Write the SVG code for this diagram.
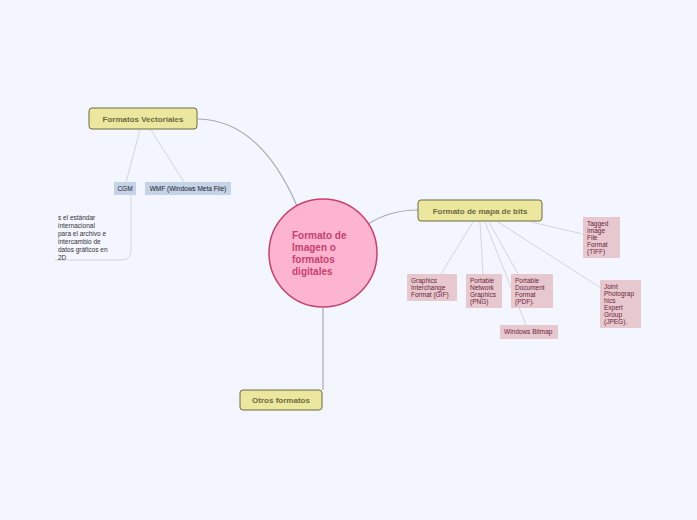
<svg xmlns="http://www.w3.org/2000/svg" width="697" height="520" viewBox="0 0 697 520">
<style>
.t{font-family:"Liberation Sans",Arial,sans-serif}
.main rect{fill:#ece79f;stroke:#6d6a3e;stroke-width:1}
.main text{font-size:8px;font-weight:bold;fill:#6d6a3e}
.blue rect{fill:#c4d3e8}
.blue text{font-size:6.5px;fill:#222}
.pink rect{fill:#e8c8cf}
.pink text{font-size:6.5px;fill:#6a2438}
.c{fill:none;stroke:#c9ccd6;stroke-width:0.8}
.cm{fill:none;stroke:#aaaaaa;stroke-width:1.2}
</style>
<rect width="697" height="520" fill="#f3f5ff"/>
<g id="connectors">
<path class="cm" d="M297 206 Q260 120 198 119"/>
<path class="cm" d="M368 224 Q390 210 418 210"/>
<path class="cm" d="M323 308 L323 390"/>
<path class="c" d="M140 130 L126 182"/>
<path class="c" d="M151 130 L184 182"/>
<path class="c" d="M131 195 L131 250 Q131 260 121 260 L55 260"/>
<path class="c" d="M473 222 L441 274"/>
<path class="c" d="M480 222 L483 274"/>
<path class="c" d="M485 222 L526 325"/>
<path class="c" d="M489 222 L518 274"/>
<path class="c" d="M498 222 L601 288"/>
<path class="c" d="M531 222 L583 234"/>
</g>
<g id="center"><circle cx="323" cy="253" r="54" fill="#fdb5cf" stroke="#c9406e" stroke-width="1.5"/>
<text class="t" font-size="10" font-weight="bold" fill="#c9406e"><tspan x="292" y="239">Formato de</tspan><tspan x="292" y="251">Imagen o</tspan><tspan x="292" y="263">formatos</tspan><tspan x="292" y="275">digitales</tspan></text></g>
<g id="vect" class="main"><rect x="89" y="108" width="108" height="21" rx="3"/><text class="t" x="143" y="122" text-anchor="middle">Formatos Vectoriales</text></g>
<g id="bits" class="main"><rect x="418" y="200" width="124" height="21" rx="3"/><text class="t" x="480" y="214" text-anchor="middle">Formato de mapa de bits</text></g>
<g id="otros" class="main"><rect x="240" y="390" width="82" height="20" rx="3"/><text class="t" x="281" y="403" text-anchor="middle">Otros formatos</text></g>
<g id="cgm" class="blue"><rect x="114" y="182" width="22" height="13"/><text class="t" x="125" y="191" text-anchor="middle">CGM</text></g>
<g id="wmf" class="blue"><rect x="145" y="182" width="86" height="13"/><text class="t" x="188" y="191" text-anchor="middle">WMF (Windows Meta File)</text></g>
<g id="cgmnote"><text class="t" font-size="6.5" fill="#333"><tspan x="58" y="220">s el estándar</tspan><tspan x="58" y="228">internacional</tspan><tspan x="58" y="236">para el archivo e</tspan><tspan x="58" y="244">intercambio de</tspan><tspan x="58" y="252">datos gráficos en</tspan><tspan x="58" y="260">2D</tspan></text></g>
<g id="gif" class="pink"><rect x="407" y="274" width="50" height="27"/><text class="t"><tspan x="411" y="283">Graphics</tspan><tspan x="411" y="290">Interchange</tspan><tspan x="411" y="297">Format (GIF)</tspan></text></g>
<g id="png" class="pink"><rect x="466" y="274" width="36" height="34"/><text class="t"><tspan x="470" y="283">Portable</tspan><tspan x="470" y="290">Network</tspan><tspan x="470" y="297">Graphics</tspan><tspan x="470" y="304">(PNG)</tspan></text></g>
<g id="pdf" class="pink"><rect x="511" y="274" width="42" height="34"/><text class="t"><tspan x="515" y="283">Portable</tspan><tspan x="515" y="290">Document</tspan><tspan x="515" y="297">Format</tspan><tspan x="515" y="304">(PDF).</tspan></text></g>
<g id="bmp" class="pink"><rect x="500" y="325" width="58" height="14"/><text class="t" x="504" y="334">Windows Bitmap</text></g>
<g id="tiff" class="pink"><rect x="583" y="217" width="37" height="41"/><text class="t"><tspan x="587" y="226">Tagged</tspan><tspan x="587" y="233">Image</tspan><tspan x="587" y="240">File</tspan><tspan x="587" y="247">Format</tspan><tspan x="587" y="254">(TIFF)</tspan></text></g>
<g id="jpeg" class="pink"><rect x="600" y="280" width="41" height="48"/><text class="t"><tspan x="604" y="289">Joint</tspan><tspan x="604" y="296">Photograp</tspan><tspan x="604" y="303">hics</tspan><tspan x="604" y="310">Expert</tspan><tspan x="604" y="317">Group</tspan><tspan x="604" y="324">(JPEG).</tspan></text></g>
</svg>
